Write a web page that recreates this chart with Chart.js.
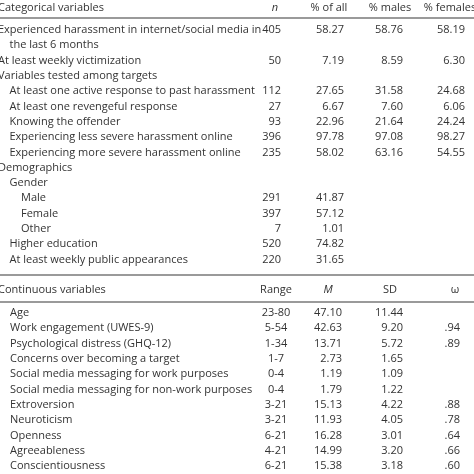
<!DOCTYPE html>
<html lang="en">
<head>
    <meta charset="UTF-8">
    <title>Table</title>
    <style>
        html, body { margin: 0; padding: 0; background: #fff; overflow: hidden; }
    </style>
</head>
<body>
<div>
    <canvas id="myChart" width="474" height="474"></canvas>
</div>

<script src="https://cdn.jsdelivr.net/npm/chart.js"></script>

<script>
    // categorical part
    const catHeaders = ['Categorical variables', 'n', '% of all', '% males', '% females'];
    const catLabels = [
        'Experienced harassment in internet/social media in', 'the last 6 months',
        'At least weekly victimization', 'Variables tested among targets',
        'At least one active response to past harassment', 'At least one revengeful response',
        'Knowing the offender', 'Experiencing less severe harassment online',
        'Experiencing more severe harassment online', 'Demographics', 'Gender',
        'Male', 'Female', 'Other', 'Higher education', 'At least weekly public appearances'
    ];
    const catIndent = [0, 1, 0, 0, 1, 1, 1, 1, 1, 0, 1, 2, 2, 2, 1, 1];
    const catN = ['405', '', '50', '', '112', '27', '93', '396', '235', '', '', '291', '397', '7', '520', '220'];
    const catAll = ['58.27', '', '7.19', '', '27.65', '6.67', '22.96', '97.78', '58.02', '', '', '41.87', '57.12', '1.01', '74.82', '31.65'];
    const catMales = ['58.76', '', '8.59', '', '31.58', '7.60', '21.64', '97.08', '63.16', '', '', '', '', '', '', ''];
    const catFemales = ['58.19', '', '6.30', '', '24.68', '6.06', '24.24', '98.27', '54.55', '', '', '', '', '', '', ''];

    // continuous part
    const contHeaders = ['Continuous variables', 'Range', 'M', 'SD', 'ω'];
    const contLabels = [
        'Age', 'Work engagement (UWES-9)', 'Psychological distress (GHQ-12)',
        'Concerns over becoming a target', 'Social media messaging for work purposes',
        'Social media messaging for non-work purposes', 'Extroversion', 'Neuroticism',
        'Openness', 'Agreeableness', 'Conscientiousness'
    ];
    const contRange = ['23-80', '5-54', '1-34', '1-7', '0-4', '0-4', '3-21', '3-21', '6-21', '4-21', '6-21'];
    const contM = ['47.10', '42.63', '13.71', '2.73', '1.19', '1.79', '15.13', '11.93', '16.28', '14.99', '15.38'];
    const contSD = ['11.44', '9.20', '5.72', '1.65', '1.09', '1.22', '4.22', '4.05', '3.01', '3.20', '3.18'];
    const contOmega = ['', '.94', '.89', '', '', '', '.88', '.78', '.64', '.66', '.60'];

    const FONT = '"Open Sans", "DejaVu Sans", sans-serif';
    const INK = '#333';

    // each text cell becomes one point; the plugin writes its text at the scaled position
    function cells() {
        const out = [];
        const hx = [-2, 275, 329, 390, 450];
        const ha = ['left', 'center', 'center', 'center', 'center'];
        catHeaders.forEach((t, i) => out.push({x: hx[i], y: 8, t: t, a: ha[i], it: i === 1}));
        catLabels.forEach((t, r) => {
            const y = 30 + r * 15.3;
            out.push({x: -2 + catIndent[r] * 11.5, y: y, t: t, a: 'left'});
            out.push({x: 281, y: y, t: catN[r], a: 'right'});
            out.push({x: 344, y: y, t: catAll[r], a: 'right'});
            out.push({x: 403, y: y, t: catMales[r], a: 'right'});
            out.push({x: 465, y: y, t: catFemales[r], a: 'right'});
        });
        const cx = [-2, 276, 328, 390, 455];
        contHeaders.forEach((t, i) => out.push({x: cx[i], y: 290, t: t, a: ha[i], it: i === 2}));
        contLabels.forEach((t, r) => {
            const y = 313 + r * 15.3;
            out.push({x: 10, y: y, t: t, a: 'left'});
            out.push({x: 276, y: y, t: contRange[r], a: 'center'});
            out.push({x: 342, y: y, t: contM[r], a: 'right'});
            out.push({x: 403, y: y, t: contSD[r], a: 'right'});
            out.push({x: 460, y: y, t: contOmega[r], a: 'right'});
        });
        return out;
    }

    const rules = [{y: 18, w: 2}, {y: 275, w: 2}, {y: 302, w: 2}];

    const tablePlugin = {
        id: 'tableText',
        afterDatasetsDraw(chart) {
            const c = chart.ctx;
            const xs = chart.scales.x, ys = chart.scales.y;
            c.save();
            c.strokeStyle = '#9a9a9a';
            rules.forEach(r => {
                c.lineWidth = r.w;
                c.beginPath();
                c.moveTo(xs.getPixelForValue(0), ys.getPixelForValue(r.y));
                c.lineTo(xs.getPixelForValue(474), ys.getPixelForValue(r.y));
                c.stroke();
            });
            c.fillStyle = INK;
            c.textBaseline = 'middle';
            chart.data.datasets[0].data.forEach(p => {
                if (!p.t) return;
                c.font = (p.it ? 'italic ' : '') + '11px ' + FONT;
                c.textAlign = p.a;
                c.fillText(p.t, xs.getPixelForValue(p.x), ys.getPixelForValue(p.y));
            });
            c.restore();
        }
    };

    new Chart(document.getElementById('myChart'), {
        type: 'scatter',
        data: {datasets: [{data: cells(), pointRadius: 0, pointHoverRadius: 0}]},
        options: {
            responsive: false,
            animation: false,
            layout: {padding: 0},
            plugins: {legend: {display: false}, tooltip: {enabled: false}},
            scales: {
                x: {type: 'linear', min: 0, max: 474, display: false},
                y: {type: 'linear', min: 0, max: 474, reverse: true, display: false}
            }
        },
        plugins: [tablePlugin]
    });
</script>

</body>
</html>
